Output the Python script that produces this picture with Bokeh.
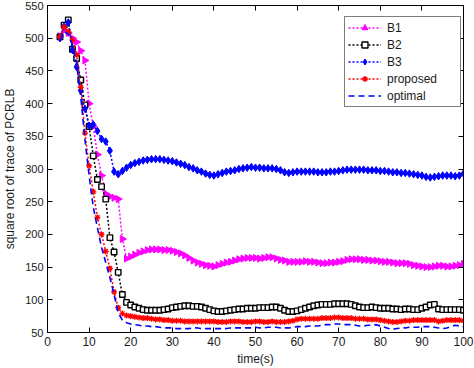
import math
from bokeh.plotting import figure
from bokeh.models import LinearAxis, FixedTicker, Range1d, CustomJSTickFormatter
from bokeh.embed import file_html
from bokeh.resources import INLINE

t = list(range(3, 101))

b1 = [503, 512, 508, 500, 494, 481, 466, 400, 365, 322, 290, 262, 258, 256, 254, 193, 163, 166,
      169, 172, 174, 176, 177, 177, 177, 176, 176, 175, 173, 171, 168, 164, 160, 157, 155, 153,
      152, 151, 153, 155, 157, 158, 160, 162, 163, 164, 164, 164, 163, 164, 165, 165, 163, 161,
      160, 158, 158, 158, 158, 159, 158, 158, 157, 156, 156, 157, 157, 158, 159, 161, 162, 162,
      162, 161, 161, 160, 160, 159, 158, 158, 157, 156, 156, 156, 155, 153, 152, 151, 150, 150,
      151, 152, 152, 151, 151, 152, 153, 155]

b2 = [502, 520, 528, 483, 469, 436, 398, 365, 320, 284, 273, 254, 195, 173, 142, 108, 96, 92,
      89, 87, 85, 84, 84, 84, 84, 85, 86, 88, 89, 90, 91, 91, 90, 90, 89, 87, 85, 83, 82, 82, 83,
      84, 85, 86, 86, 87, 87, 87, 88, 88, 88, 89, 89, 87, 84, 82, 82, 83, 85, 87, 89, 91, 92, 93,
      93, 93, 94, 94, 94, 94, 93, 91, 89, 88, 88, 89, 88, 87, 87, 87, 86, 86, 85, 86, 86, 85, 85,
      87, 89, 92, 93, 86, 85, 85, 85, 85, 85, 84]

b3 = [500, 518, 524, 482, 456, 420, 392, 366, 368, 358, 346, 342, 328, 296, 292, 297, 302, 306,
      309, 311, 313, 314, 315, 315, 315, 314, 313, 312, 310, 308, 306, 303, 301, 298, 296, 293,
      291, 290, 292, 294, 296, 297, 298, 300, 301, 302, 303, 302, 302, 301, 301, 301, 300, 298,
      295, 294, 295, 296, 296, 296, 296, 296, 295, 295, 295, 296, 296, 297, 298, 299, 299, 299,
      299, 299, 298, 298, 298, 297, 297, 296, 295, 295, 294, 294, 293, 292, 291, 290, 288, 287,
      288, 289, 290, 290, 290, 289, 290, 293]

proposed = [502, 517, 510, 497, 475, 425, 355, 305, 265, 226, 200, 174, 148, 112, 88, 79, 76, 75,
            74, 73, 72, 72, 71, 70, 70, 69, 69, 68, 68, 68, 67, 67, 67, 67, 67, 67, 67, 67, 66,
            66, 66, 67, 67, 67, 66, 66, 66, 67, 67, 66, 66, 67, 66, 66, 66, 67, 68, 70, 71, 71,
            71, 71, 71, 72, 72, 72, 73, 73, 72, 72, 72, 71, 71, 71, 70, 70, 70, 69, 68, 67, 66,
            66, 67, 68, 68, 69, 69, 69, 69, 69, 69, 67, 68, 69, 69, 69, 69, 68]

optimal = [498, 510, 506, 490, 462, 410, 345, 290, 242, 210, 180, 157, 134, 108, 80, 69, 65, 63,
           62, 61, 60, 60, 59, 59, 58, 57, 57, 57, 56, 56, 56, 56, 57, 57, 56, 56, 56, 56, 56,
           56, 56, 57, 57, 57, 57, 57, 57, 58, 57, 57, 58, 58, 58, 57, 57, 57, 58, 59, 59, 59,
           60, 60, 60, 61, 62, 62, 63, 63, 62, 62, 62, 61, 60, 60, 61, 61, 62, 60, 58, 56, 55,
           56, 57, 57, 58, 58, 58, 59, 59, 59, 58, 57, 56, 57, 59, 61, 60, 59]

x_ticks = [0, 10, 20, 30, 40, 50, 60, 70, 80, 90, 100]
y_ticks = [50, 100, 150, 200, 250, 300, 350, 400, 450, 500, 550]

FONT = "Liberation Sans"
TXT = "#1a1a1a"

p = figure(width=474, height=368, output_backend="svg", toolbar_location=None,
           x_range=Range1d(0, 100), y_range=Range1d(50, 550),
           min_border_left=45, min_border_right=11, min_border_top=5, min_border_bottom=34)
p.grid.visible = False
p.outline_line_color = "black"
p.outline_line_width = 1

# series
p.line(t, b1, line_color="#ff00ff", line_dash="2 2", line_width=1.5, legend_label="B1")
p.scatter(t, b1, marker="triangle", angle=-math.pi / 2, size=7,
          fill_color="#ff00ff", line_color="#ff00ff", legend_label="B1")

p.line(t, b2, line_color="black", line_dash="2 2", line_width=1.5, legend_label="B2")
p.scatter(t, b2, marker="square", size=5.5, fill_color="white", line_color="black",
          line_width=1.4, legend_label="B2")

p.line(t, b3, line_color="#0000ff", line_dash="2 2", line_width=1.5, legend_label="B3")
p.scatter(t, b3, marker="diamond", size=7.5, fill_color="#0000ff", line_color="#0000ff",
          legend_label="B3")

p.line(t, proposed, line_color="#ff0000", line_dash="2 2", line_width=1.5, legend_label="proposed")
p.scatter(t, proposed, marker="asterisk", size=6, line_color="#ff0000", line_width=1.3,
          legend_label="proposed")

p.line(t, optimal, line_color="#0000ff", line_dash="6 4", line_width=1.6, legend_label="optimal")

# axes
for ax, tk in ((p.xaxis[0], x_ticks), (p.yaxis[0], y_ticks)):
    ax.ticker = FixedTicker(ticks=tk)
    ax.major_tick_in = 5
    ax.major_tick_out = 0
    ax.minor_tick_line_color = None
    ax.axis_line_color = "black"
    ax.major_tick_line_color = "black"
    ax.major_label_text_font = FONT
    ax.major_label_text_color = TXT
    ax.axis_label_text_font = FONT
    ax.axis_label_text_font_style = "normal"
    ax.axis_label_text_color = TXT
    ax.axis_label_text_font_size = "12px"

p.xaxis.major_label_text_font_size = "12px"
p.yaxis.major_label_text_font_size = "11px"
p.xaxis.major_label_standoff = 4
p.yaxis.major_label_standoff = 4
p.xaxis.axis_label = "time(s)"
p.yaxis.axis_label = "square root of trace of PCRLB"
p.xaxis.axis_label_standoff = 3
p.yaxis.axis_label_standoff = 5

blank = CustomJSTickFormatter(code="return ''")
top = LinearAxis(ticker=FixedTicker(ticks=x_ticks), major_tick_in=5, major_tick_out=0,
                 minor_tick_line_color=None, formatter=blank,
                 major_label_standoff=0, axis_line_color="black")
right = LinearAxis(ticker=FixedTicker(ticks=y_ticks), major_tick_in=5, major_tick_out=0,
                   minor_tick_line_color=None, formatter=blank,
                   major_label_standoff=0, axis_line_color="black")
p.add_layout(top, "above")
p.add_layout(right, "right")

lg = p.legend[0]
lg.location = (297, 225)
lg.margin = 0
lg.padding = 3
lg.spacing = 2
lg.glyph_width = 33
lg.glyph_height = 15
lg.label_height = 15
lg.label_width = 70
lg.label_standoff = 6
lg.label_text_font = FONT
lg.label_text_font_size = "12px"
lg.label_text_color = TXT
lg.border_line_color = "black"
lg.border_line_width = 1
lg.background_fill_color = "white"
lg.background_fill_alpha = 1

open("out.html", "w").write(file_html(p, INLINE))
